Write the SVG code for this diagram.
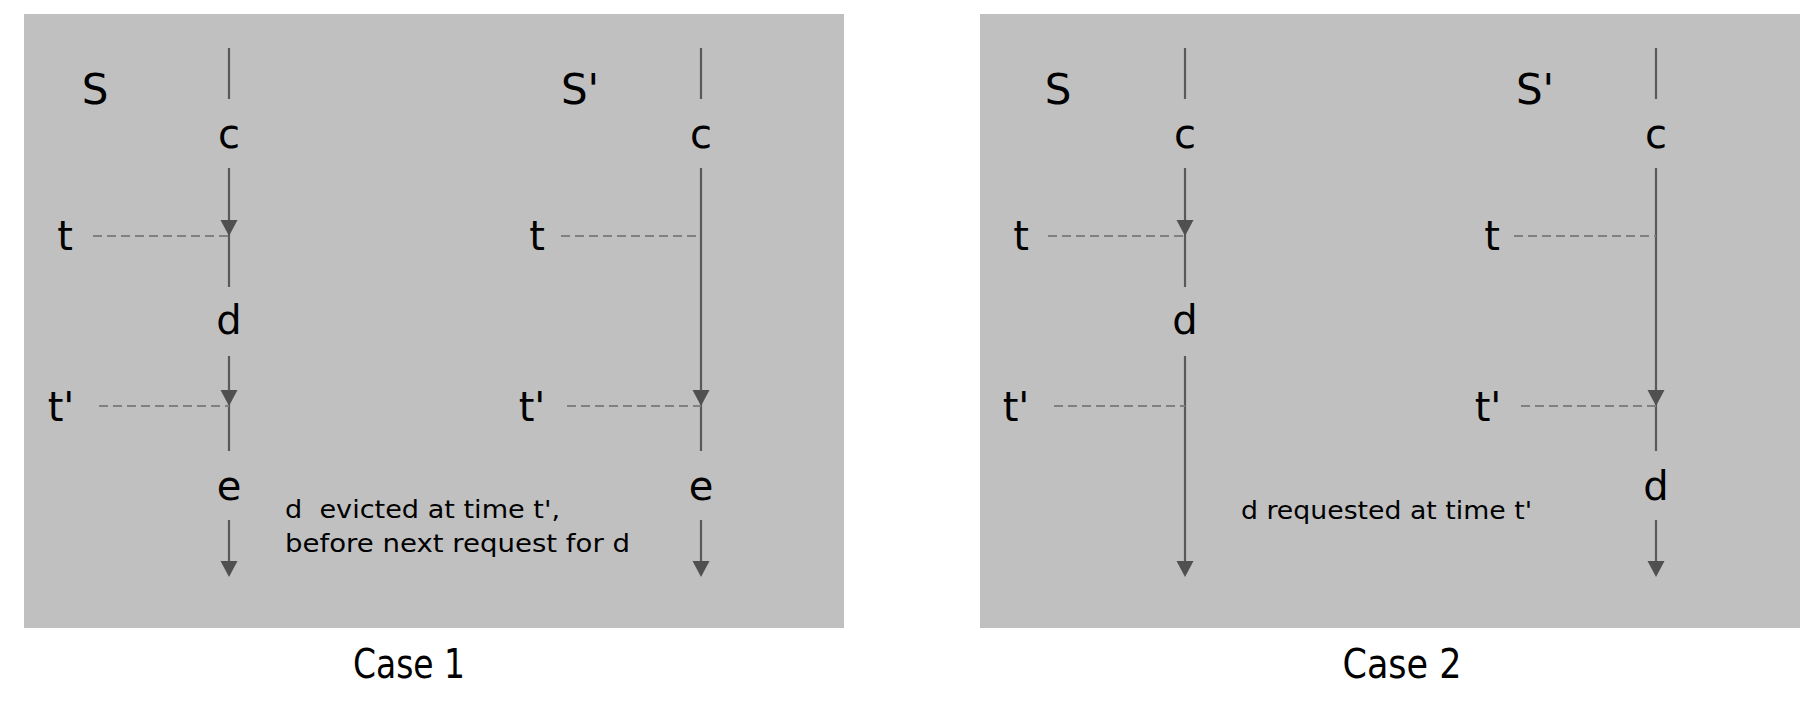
<svg xmlns="http://www.w3.org/2000/svg" width="1817" height="703" viewBox="0 0 1817 703">
<style>
.bg{fill:#c0c0c0}
.lbl{font-family:"DejaVu Sans","Liberation Sans",sans-serif;font-size:40px;fill:#000;text-anchor:middle}
.big{font-size:42px}
.note{font-family:"DejaVu Sans","Liberation Sans",sans-serif;font-size:25px;fill:#000;white-space:pre}
.cap{font-family:"DejaVu Sans","Liberation Sans",sans-serif;font-size:40px;fill:#000;text-anchor:middle}
.ln{stroke:#595959;stroke-width:2.2;fill:none}
.dash{stroke:#808080;stroke-width:2;stroke-dasharray:9 5;fill:none}
.ah{fill:#505050}
</style>
<defs>
<polygon id="head" class="ah" points="-8.5,-16 8.5,-16 0,0"/>
</defs>
<rect class="bg" x="24" y="14" width="820" height="614"/>
<rect class="bg" x="980" y="14" width="820" height="614"/>
<g id="connectors">
<!-- Case 1, S -->
<line class="ln" x1="229" y1="48" x2="229" y2="99"/>
<line class="ln" x1="229" y1="168" x2="229" y2="287"/>
<use href="#head" x="229" y="236"/>
<line class="ln" x1="229" y1="356" x2="229" y2="451"/>
<use href="#head" x="229" y="406"/>
<line class="ln" x1="229" y1="520" x2="229" y2="570"/>
<use href="#head" x="229" y="577"/>
<line class="dash" x1="93" y1="236" x2="229" y2="236"/>
<line class="dash" x1="99" y1="406" x2="229" y2="406"/>
<!-- Case 1, S' -->
<line class="ln" x1="701" y1="48" x2="701" y2="99"/>
<line class="ln" x1="701" y1="168" x2="701" y2="451"/>
<use href="#head" x="701" y="406"/>
<line class="ln" x1="701" y1="520" x2="701" y2="570"/>
<use href="#head" x="701" y="577"/>
<line class="dash" x1="561" y1="236" x2="701" y2="236"/>
<line class="dash" x1="567" y1="406" x2="701" y2="406"/>
<!-- Case 2, S -->
<line class="ln" x1="1185" y1="48" x2="1185" y2="99"/>
<line class="ln" x1="1185" y1="168" x2="1185" y2="287"/>
<use href="#head" x="1185" y="236"/>
<line class="ln" x1="1185" y1="356" x2="1185" y2="570"/>
<use href="#head" x="1185" y="577"/>
<line class="dash" x1="1048" y1="236" x2="1185" y2="236"/>
<line class="dash" x1="1054" y1="406" x2="1185" y2="406"/>
<!-- Case 2, S' -->
<line class="ln" x1="1656" y1="48" x2="1656" y2="99"/>
<line class="ln" x1="1656" y1="168" x2="1656" y2="451"/>
<use href="#head" x="1656" y="406"/>
<line class="ln" x1="1656" y1="520" x2="1656" y2="570"/>
<use href="#head" x="1656" y="577"/>
<line class="dash" x1="1514" y1="236" x2="1656" y2="236"/>
<line class="dash" x1="1521" y1="406" x2="1656" y2="406"/>
</g>
<g id="case1-S">
<text class="lbl big" x="95" y="104">S</text>
<text class="lbl" x="229" y="148">c</text>
<text class="lbl" x="229" y="334">d</text>
<text class="lbl" x="229" y="500">e</text>
<text class="lbl" x="65" y="250">t</text>
<text class="lbl" x="61" y="421">t'</text>
</g>
<g id="case1-Sp">
<text class="lbl big" x="580" y="104">S'</text>
<text class="lbl" x="701" y="148">c</text>
<text class="lbl" x="701" y="500">e</text>
<text class="lbl" x="537" y="250">t</text>
<text class="lbl" x="532" y="421">t'</text>
</g>
<g id="case1-note">
<text class="note" x="285" y="518" textLength="275" lengthAdjust="spacingAndGlyphs">d  evicted at time t',</text>
<text class="note" x="285" y="552" textLength="345" lengthAdjust="spacingAndGlyphs">before next request for d</text>
</g>
<g id="case2-S">
<text class="lbl big" x="1058" y="104">S</text>
<text class="lbl" x="1185" y="148">c</text>
<text class="lbl" x="1185" y="334">d</text>
<text class="lbl" x="1021" y="250">t</text>
<text class="lbl" x="1016" y="421">t'</text>
</g>
<g id="case2-Sp">
<text class="lbl big" x="1535" y="104">S'</text>
<text class="lbl" x="1656" y="148">c</text>
<text class="lbl" x="1656" y="500">d</text>
<text class="lbl" x="1492" y="250">t</text>
<text class="lbl" x="1488" y="421">t'</text>
</g>
<g id="case2-note">
<text class="note" x="1241" y="519" textLength="291" lengthAdjust="spacingAndGlyphs">d requested at time t'</text>
</g>
<g id="captions">
<text class="cap" x="409" y="678" textLength="112" lengthAdjust="spacingAndGlyphs">Case 1</text>
<text class="cap" x="1402" y="678" textLength="119" lengthAdjust="spacingAndGlyphs">Case 2</text>
</g>
</svg>
